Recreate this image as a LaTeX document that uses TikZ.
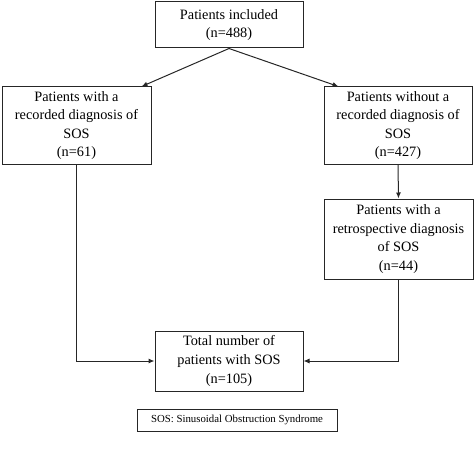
\documentclass[tikz,border=0pt]{standalone}
\usepackage{fontspec}
\setmainfont{Liberation Serif}
\usepackage{tikz}
\usetikzlibrary{positioning,calc,arrows.meta}

\begin{document}
\begin{tikzpicture}[x=1pt,y=-1pt,
    box/.style={draw=black!85, line width=1pt, align=center, inner sep=0pt,
        font=\fontsize{14.3}{18.6}\selectfont},
    arr/.style={draw=black!85, line width=1pt, -{Latex[length=6pt,width=5pt]}}]
    \useasboundingbox (0,0) rectangle (474,460);

    % Flow boxes
    \node[box, minimum width=148pt, minimum height=46pt] (incl) at (229,25) {Patients included\\(n=488)};
    \node[box, minimum width=149pt, minimum height=77pt] (rec) at (76.5,125.5) {Patients with a\\recorded diagnosis of\\SOS\\(n=61)};
    \node[box, minimum width=148pt, minimum height=77pt] (norec) at (398,125.5) {Patients without a\\recorded diagnosis of\\SOS\\(n=427)};
    \node[box, minimum width=149pt, minimum height=80pt] (retro) at (398.5,239) {Patients with a\\retrospective diagnosis\\of SOS\\(n=44)};
    \node[box, minimum width=148pt, minimum height=60pt] (total) at (229,361) {Total number of\\patients with SOS\\(n=105)};

    % Legend
    \node[box, minimum width=200pt, minimum height=22pt, font=\fontsize{10.8}{12}\selectfont] (legend) at (237,420) {SOS: Sinusoidal Obstruction Syndrome};

    % Arrows
    \draw[arr] (incl.south) -- ([xshift=-10pt]rec.north east);
    \draw[arr] (incl.south) -- ([xshift=15pt]norec.north west);
    \draw[arr] (norec.south) -- (retro.north);
    \draw[arr] (rec.south) |- (total.west);
    \draw[arr] (retro.south -| norec.south) |- (total.east);
\end{tikzpicture}
\end{document}
